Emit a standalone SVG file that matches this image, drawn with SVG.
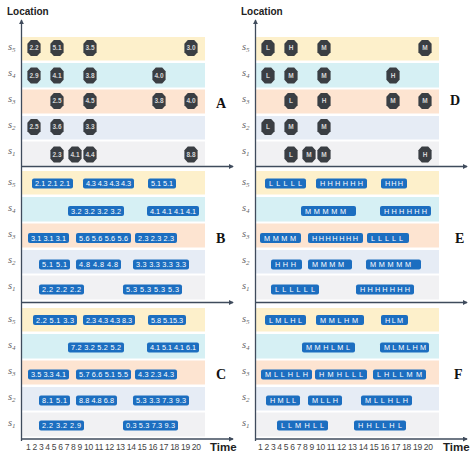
<svg xmlns="http://www.w3.org/2000/svg" xmlns:xlink="http://www.w3.org/1999/xlink" width="474" height="460" viewBox="0 0 474 460">
<style>
.b5{fill:#fdf0cb}.b4{fill:#d6f0f4}.b3{fill:#fde4d1}.b2{fill:#e6ecf5}.b1{fill:#f1f1f3}
.box{fill:#1c6ec0}
.bt{font-family:"Liberation Sans",Arial,sans-serif;font-size:7.3px;fill:#ffffff}
.oct{fill:#3a3e43}
.ot{font-family:"Liberation Sans",Arial,sans-serif;font-size:6.5px;font-weight:bold;fill:#d4d4d4;text-anchor:middle}
.sl{font-family:"Liberation Serif","Times New Roman",serif;font-style:italic;font-size:10.5px;fill:#666666}
.pl{font-family:"Liberation Serif","Times New Roman",serif;font-weight:bold;font-size:14px;fill:#111111}
.ax{stroke:#3f4b5c;stroke-width:1.3;fill:none}
.lbl{font-family:"Liberation Sans",Arial,sans-serif;font-weight:bold;fill:#222222}
.tk{font-family:"Liberation Sans",Arial,sans-serif;font-size:8.5px;fill:#444444}
</style>
<defs>
<marker id="ar" viewBox="0 0 6 6" refX="5" refY="3" markerWidth="5" markerHeight="5" orient="auto" markerUnits="userSpaceOnUse"><path d="M0,0 L6,3 L0,6 z" fill="#3f4b5c"/></marker>
<polygon id="o" points="-3.2,-8 3.2,-8 6.6,-4.3 6.6,4.3 3.2,8 -3.2,8 -6.6,4.3 -6.6,-4.3"/>
<g id="bandsL">
<rect class="b5" x="22" y="0" width="183" height="23.5"/>
<rect class="b4" x="22" y="26" width="183" height="24.5"/>
<rect class="b3" x="22" y="52.5" width="183" height="24"/>
<rect class="b2" x="22" y="79" width="183" height="23.5"/>
<rect class="b1" x="22" y="104.5" width="183" height="24"/>
</g>
</defs>

<g id="bands">
<use xlink:href="#bandsL" x="0" y="37"/>
<use xlink:href="#bandsL" x="0" y="171"/>
<use xlink:href="#bandsL" x="0" y="308"/>
<use xlink:href="#bandsL" x="234" y="37"/>
<use xlink:href="#bandsL" x="234" y="171"/>
<use xlink:href="#bandsL" x="234" y="308"/>
</g>

<g id="connectors">
<line class="ax" x1="21.5" y1="441" x2="21.5" y2="20" marker-end="url(#ar)"/>
<line class="ax" x1="255.5" y1="441" x2="255.5" y2="20" marker-end="url(#ar)"/>
<line class="ax" x1="21" y1="166.5" x2="233" y2="166.5" marker-end="url(#ar)"/>
<line class="ax" x1="21" y1="302.5" x2="233" y2="302.5" marker-end="url(#ar)"/>
<line class="ax" x1="21" y1="439" x2="233" y2="439" marker-end="url(#ar)"/>
<line class="ax" x1="255" y1="166.5" x2="467" y2="166.5" marker-end="url(#ar)"/>
<line class="ax" x1="255" y1="302.5" x2="467" y2="302.5" marker-end="url(#ar)"/>
<line class="ax" x1="255" y1="439" x2="467" y2="439" marker-end="url(#ar)"/>
</g>

<g id="axis-labels">
<text class="lbl" x="7" y="15" font-size="10">Location</text>
<text class="lbl" x="241" y="15" font-size="10">Location</text>
<text class="tk" x="26" y="450" textLength="175" lengthAdjust="spacing">1 2 3 4 5 6 7 8 9 10 11 12 13 14 15 16 17 18 19 20</text>
<text class="tk" x="258" y="450" textLength="175" lengthAdjust="spacing">1 2 3 4 5 6 7 8 9 10 11 12 13 14 15 16 17 18 19 20</text>
<text class="lbl" x="210" y="451" font-size="11.5">Time</text>
<text class="lbl" x="443" y="451" font-size="11.5">Time</text>
</g>

<g id="s-labels">
<text class="sl" x="8" y="50">s<tspan font-size="7" dy="2">5</tspan></text>
<text class="sl" x="8" y="76">s<tspan font-size="7" dy="2">4</tspan></text>
<text class="sl" x="8" y="102">s<tspan font-size="7" dy="2">3</tspan></text>
<text class="sl" x="8" y="128">s<tspan font-size="7" dy="2">2</tspan></text>
<text class="sl" x="8" y="154">s<tspan font-size="7" dy="2">1</tspan></text>
<text class="sl" x="8" y="185">s<tspan font-size="7" dy="2">5</tspan></text>
<text class="sl" x="8" y="211">s<tspan font-size="7" dy="2">4</tspan></text>
<text class="sl" x="8" y="237">s<tspan font-size="7" dy="2">3</tspan></text>
<text class="sl" x="8" y="263">s<tspan font-size="7" dy="2">2</tspan></text>
<text class="sl" x="8" y="289">s<tspan font-size="7" dy="2">1</tspan></text>
<text class="sl" x="8" y="322">s<tspan font-size="7" dy="2">5</tspan></text>
<text class="sl" x="8" y="348">s<tspan font-size="7" dy="2">4</tspan></text>
<text class="sl" x="8" y="374">s<tspan font-size="7" dy="2">3</tspan></text>
<text class="sl" x="8" y="400">s<tspan font-size="7" dy="2">2</tspan></text>
<text class="sl" x="8" y="426">s<tspan font-size="7" dy="2">1</tspan></text>
<text class="sl" x="242" y="50">s<tspan font-size="7" dy="2">5</tspan></text>
<text class="sl" x="242" y="76">s<tspan font-size="7" dy="2">4</tspan></text>
<text class="sl" x="242" y="102">s<tspan font-size="7" dy="2">3</tspan></text>
<text class="sl" x="242" y="128">s<tspan font-size="7" dy="2">2</tspan></text>
<text class="sl" x="242" y="154">s<tspan font-size="7" dy="2">1</tspan></text>
<text class="sl" x="242" y="185">s<tspan font-size="7" dy="2">5</tspan></text>
<text class="sl" x="242" y="211">s<tspan font-size="7" dy="2">4</tspan></text>
<text class="sl" x="242" y="237">s<tspan font-size="7" dy="2">3</tspan></text>
<text class="sl" x="242" y="263">s<tspan font-size="7" dy="2">2</tspan></text>
<text class="sl" x="242" y="289">s<tspan font-size="7" dy="2">1</tspan></text>
<text class="sl" x="242" y="322">s<tspan font-size="7" dy="2">5</tspan></text>
<text class="sl" x="242" y="348">s<tspan font-size="7" dy="2">4</tspan></text>
<text class="sl" x="242" y="374">s<tspan font-size="7" dy="2">3</tspan></text>
<text class="sl" x="242" y="400">s<tspan font-size="7" dy="2">2</tspan></text>
<text class="sl" x="242" y="426">s<tspan font-size="7" dy="2">1</tspan></text>
</g>

<g id="panel-labels">
<text class="pl" x="216" y="108">A</text>
<text class="pl" x="216" y="243">B</text>
<text class="pl" x="216" y="379">C</text>
<text class="pl" x="450" y="105">D</text>
<text class="pl" x="455" y="243">E</text>
<text class="pl" x="454" y="379">F</text>
</g>

<g id="panelA">
<g class="oct">
<use href="#o" x="34" y="48"/><use href="#o" x="57" y="48"/><use href="#o" x="90" y="48"/><use href="#o" x="191" y="48"/>
<use href="#o" x="34" y="75.5"/><use href="#o" x="57" y="75.5"/><use href="#o" x="90" y="75.5"/><use href="#o" x="159" y="75.5"/>
<use href="#o" x="57" y="101"/><use href="#o" x="90" y="101"/><use href="#o" x="159" y="101"/><use href="#o" x="191" y="101"/>
<use href="#o" x="34" y="127"/><use href="#o" x="57" y="127"/><use href="#o" x="90" y="127"/>
<use href="#o" x="57" y="154.5"/><use href="#o" x="75" y="154.5"/><use href="#o" x="90" y="154.5"/><use href="#o" x="191" y="154.5"/>
</g>
<text class="ot" x="34" y="50.3">2.2</text><text class="ot" x="57" y="50.3">5.1</text><text class="ot" x="90" y="50.3">3.5</text><text class="ot" x="191" y="50.3">3.0</text>
<text class="ot" x="34" y="77.8">2.9</text><text class="ot" x="57" y="77.8">4.1</text><text class="ot" x="90" y="77.8">3.8</text><text class="ot" x="159" y="77.8">4.0</text>
<text class="ot" x="57" y="103.3">2.5</text><text class="ot" x="90" y="103.3">4.5</text><text class="ot" x="159" y="103.3">3.8</text><text class="ot" x="191" y="103.3">4.0</text>
<text class="ot" x="34" y="129.3">2.5</text><text class="ot" x="57" y="129.3">3.6</text><text class="ot" x="90" y="129.3">3.3</text>
<text class="ot" x="57" y="156.8">2.3</text><text class="ot" x="75" y="156.8">4.1</text><text class="ot" x="90" y="156.8">4.4</text><text class="ot" x="191" y="156.8">8.8</text>
</g>

<g id="panelD">
<g class="oct">
<use href="#o" x="268" y="48"/><use href="#o" x="291" y="48"/><use href="#o" x="324" y="48"/><use href="#o" x="425" y="48"/>
<use href="#o" x="268" y="75.5"/><use href="#o" x="291" y="75.5"/><use href="#o" x="324" y="75.5"/><use href="#o" x="393" y="75.5"/>
<use href="#o" x="291" y="101"/><use href="#o" x="324" y="101"/><use href="#o" x="393" y="101"/><use href="#o" x="425" y="101"/>
<use href="#o" x="268" y="127"/><use href="#o" x="291" y="127"/><use href="#o" x="324" y="127"/>
<use href="#o" x="291" y="154.5"/><use href="#o" x="309" y="154.5"/><use href="#o" x="324" y="154.5"/><use href="#o" x="425" y="154.5"/>
</g>
<text class="ot" x="268" y="50.3">L</text><text class="ot" x="291" y="50.3">H</text><text class="ot" x="324" y="50.3">M</text><text class="ot" x="425" y="50.3">M</text>
<text class="ot" x="268" y="77.8">L</text><text class="ot" x="291" y="77.8">M</text><text class="ot" x="324" y="77.8">M</text><text class="ot" x="393" y="77.8">H</text>
<text class="ot" x="291" y="103.3">L</text><text class="ot" x="324" y="103.3">H</text><text class="ot" x="393" y="103.3">M</text><text class="ot" x="425" y="103.3">M</text>
<text class="ot" x="268" y="129.3">L</text><text class="ot" x="291" y="129.3">M</text><text class="ot" x="324" y="129.3">M</text>
<text class="ot" x="291" y="156.8">L</text><text class="ot" x="309" y="156.8">M</text><text class="ot" x="324" y="156.8">M</text><text class="ot" x="425" y="156.8">H</text>
</g>

<g id="panelB">
<rect class="box" x="32" y="178.5" width="41" height="10" rx="2"/><text class="bt" x="35" y="186" textLength="35">2.1 2.1 2.1</text>
<rect class="box" x="83" y="178.5" width="51" height="10" rx="2"/><text class="bt" x="86" y="186" textLength="45">4.3 4.3 4.3 4.3</text>
<rect class="box" x="148" y="178.5" width="28" height="10" rx="2"/><text class="bt" x="151" y="186" textLength="22">5.1 5.1</text>
<rect class="box" x="68" y="206" width="56" height="10" rx="2"/><text class="bt" x="71" y="213.5" textLength="50">3.2 3.2 3.2 3.2</text>
<rect class="box" x="147" y="206" width="52" height="10" rx="2"/><text class="bt" x="150" y="213.5" textLength="46">4.1 4.1 4.1 4.1</text>
<rect class="box" x="28" y="233" width="41" height="10" rx="2"/><text class="bt" x="31" y="240.5" textLength="35">3.1 3.1 3.1</text>
<rect class="box" x="76" y="233" width="55" height="10" rx="2"/><text class="bt" x="79" y="240.5" textLength="49">5.6 5.6 5.6 5.6</text>
<rect class="box" x="135" y="233" width="42" height="10" rx="2"/><text class="bt" x="138" y="240.5" textLength="36">2.3 2.3 2.3</text>
<rect class="box" x="39" y="259.5" width="31" height="10" rx="2"/><text class="bt" x="42" y="267" textLength="25">5.1 5.1</text>
<rect class="box" x="76" y="259.5" width="45" height="10" rx="2"/><text class="bt" x="79" y="267" textLength="39">4.8 4.8 4.8</text>
<rect class="box" x="133" y="259.5" width="56" height="10" rx="2"/><text class="bt" x="136" y="267" textLength="50">3.3 3.3 3.3 3.3</text>
<rect class="box" x="39" y="284.5" width="45" height="10" rx="2"/><text class="bt" x="42" y="292" textLength="39">2.2 2.2 2.2</text>
<rect class="box" x="123" y="284.5" width="59" height="10" rx="2"/><text class="bt" x="126" y="292" textLength="53">5.3 5.3 5.3 5.3</text>
</g>

<g id="panelC">
<rect class="box" x="33" y="315" width="44" height="10" rx="2"/><text class="bt" x="36" y="322.5" textLength="38">2.2 5.1 3.3</text>
<rect class="box" x="83" y="315" width="52" height="10" rx="2"/><text class="bt" x="86" y="322.5" textLength="46">2.3 4.3 4.3 8.3</text>
<rect class="box" x="148" y="315" width="38" height="10" rx="2"/><text class="bt" x="151" y="322.5" textLength="32">5.8 5.15.3</text>
<rect class="box" x="68" y="342.5" width="56" height="10" rx="2"/><text class="bt" x="71" y="350" textLength="50">7.2 3.2 5.2 5.2</text>
<rect class="box" x="147" y="342.5" width="52" height="10" rx="2"/><text class="bt" x="150" y="350" textLength="46">4.1 5.1 4.1 6.1</text>
<rect class="box" x="28" y="369.5" width="41" height="10" rx="2"/><text class="bt" x="31" y="377" textLength="35">3.5 3.3 4.1</text>
<rect class="box" x="76" y="369.5" width="55" height="10" rx="2"/><text class="bt" x="79" y="377" textLength="49">5.7 6.6 5.1 5.5</text>
<rect class="box" x="135" y="369.5" width="42" height="10" rx="2"/><text class="bt" x="138" y="377" textLength="36">4.3 2.3 4.3</text>
<rect class="box" x="39" y="395.5" width="31" height="10" rx="2"/><text class="bt" x="42" y="403" textLength="25">8.1 5.1</text>
<rect class="box" x="76" y="395.5" width="41" height="10" rx="2"/><text class="bt" x="79" y="403" textLength="35">8.8 4.8 6.8</text>
<rect class="box" x="133" y="395.5" width="56" height="10" rx="2"/><text class="bt" x="136" y="403" textLength="50">5.3 3.3 7.3 9.3</text>
<rect class="box" x="39" y="420.5" width="45" height="10" rx="2"/><text class="bt" x="42" y="428" textLength="39">2.2 3.2 2.9</text>
<rect class="box" x="123" y="420.5" width="55" height="10" rx="2"/><text class="bt" x="126" y="428" textLength="49">0.3 5.3 7.3 9.3</text>
</g>

<g id="panelE">
<rect class="box" x="265" y="178.5" width="41" height="10" rx="2"/><text class="bt" x="269" y="186" textLength="33">L L L L L</text>
<rect class="box" x="316" y="178.5" width="51" height="10" rx="2"/><text class="bt" x="320" y="186" textLength="43">H H H H H H</text>
<rect class="box" x="381" y="178.5" width="26" height="10" rx="2"/><text class="bt" x="385" y="186" textLength="18">H H H</text>
<rect class="box" x="301" y="206" width="55" height="10" rx="2"/><text class="bt" x="305" y="213.5" textLength="41">M M M M M</text>
<rect class="box" x="380" y="206" width="51" height="10" rx="2"/><text class="bt" x="384" y="213.5" textLength="43">H H H H H H</text>
<rect class="box" x="260" y="233" width="41" height="10" rx="2"/><text class="bt" x="264" y="240.5" textLength="32">M M M M</text>
<rect class="box" x="308" y="233" width="55" height="10" rx="2"/><text class="bt" x="312" y="240.5" textLength="46">H H H H H H H</text>
<rect class="box" x="367" y="233" width="42" height="10" rx="2"/><text class="bt" x="371" y="240.5" textLength="32">L L L L L</text>
<rect class="box" x="271" y="259.5" width="31" height="10" rx="2"/><text class="bt" x="275" y="267" textLength="21">H H H</text>
<rect class="box" x="308" y="259.5" width="44" height="10" rx="2"/><text class="bt" x="312" y="267" textLength="32">M M M M</text>
<rect class="box" x="366" y="259.5" width="55" height="10" rx="2"/><text class="bt" x="370" y="267" textLength="41">M M M M M</text>
<rect class="box" x="271" y="284.5" width="48" height="10" rx="2"/><text class="bt" x="275" y="292" textLength="40">L L L L L L</text>
<rect class="box" x="356" y="284.5" width="58" height="10" rx="2"/><text class="bt" x="360" y="292" textLength="50">H H H H H H H</text>
</g>

<g id="panelF">
<rect class="box" x="265" y="315" width="41" height="10" rx="2"/><text class="bt" x="269" y="322.5" textLength="33">L M L H L</text>
<rect class="box" x="316" y="315" width="48" height="10" rx="2"/><text class="bt" x="320" y="322.5" textLength="38">M M L H M</text>
<rect class="box" x="381" y="315" width="27" height="10" rx="2"/><text class="bt" x="385" y="322.5" textLength="18">H L M</text>
<rect class="box" x="302" y="342.5" width="53" height="10" rx="2"/><text class="bt" x="306" y="350" textLength="44">M M H L M L</text>
<rect class="box" x="380" y="342.5" width="49" height="10" rx="2"/><text class="bt" x="384" y="350" textLength="42">M L M L H M</text>
<rect class="box" x="261" y="369.5" width="51" height="10" rx="2"/><text class="bt" x="265" y="377" textLength="43">M L L H L H</text>
<rect class="box" x="315" y="369.5" width="52" height="10" rx="2"/><text class="bt" x="319" y="377" textLength="44">H M H L L L</text>
<rect class="box" x="373" y="369.5" width="53" height="10" rx="2"/><text class="bt" x="377" y="377" textLength="45">L H L L M M</text>
<rect class="box" x="266" y="395.5" width="34" height="10" rx="2"/><text class="bt" x="270" y="403" textLength="26">H M L L</text>
<rect class="box" x="308" y="395.5" width="34" height="10" rx="2"/><text class="bt" x="312" y="403" textLength="26">M L L H</text>
<rect class="box" x="361" y="395.5" width="51" height="10" rx="2"/><text class="bt" x="365" y="403" textLength="43">M L L H L H</text>
<rect class="box" x="277" y="420.5" width="51" height="10" rx="2"/><text class="bt" x="281" y="428" textLength="43">L L M H L L</text>
<rect class="box" x="354" y="420.5" width="52" height="10" rx="2"/><text class="bt" x="358" y="428" textLength="44">H H L L H L</text>
</g>
</svg>
